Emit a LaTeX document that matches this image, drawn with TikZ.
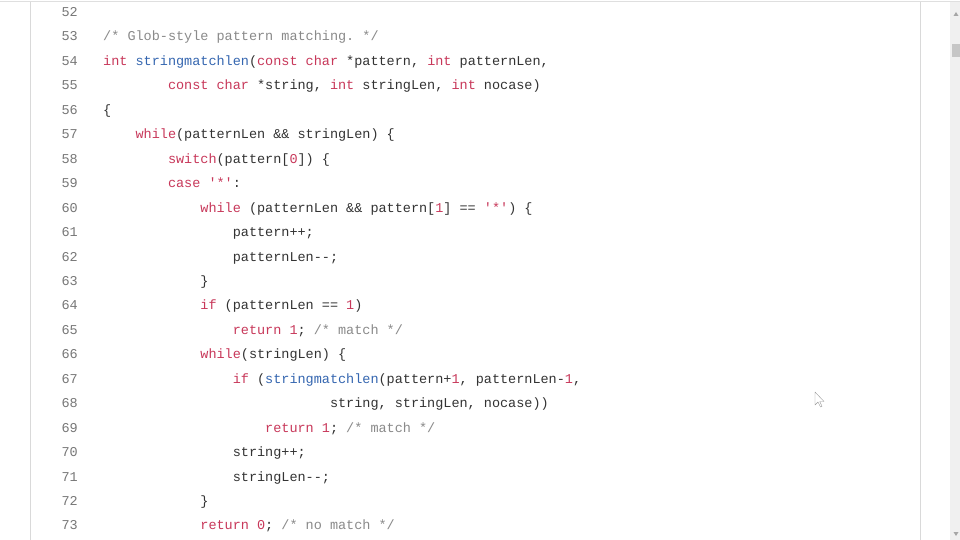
\documentclass[tikz,border=0pt]{standalone}
\usepackage{fontspec}
\setmonofont{Liberation Mono}
\definecolor{kw}{HTML}{C8385A}
\definecolor{fnc}{HTML}{3566B0}
\definecolor{cmt}{HTML}{8A8A8A}
\definecolor{txt}{HTML}{333333}
\definecolor{lnum}{HTML}{777777}
\newcommand{\ckw}[1]{\textcolor{kw}{#1}}
\newcommand{\cfn}[1]{\textcolor{fnc}{#1}}
\newcommand{\ccm}[1]{\textcolor{cmt}{#1}}
\begin{document}
\begin{tikzpicture}[x=1pt,y=-1pt,
  code/.style={anchor=base west,inner sep=0pt,font=\ttfamily\fontsize{13.5}{14}\selectfont,text=txt},
  lno/.style={anchor=base east,inner sep=0pt,font=\ttfamily\fontsize{13.5}{14}\selectfont,text=lnum}]
\fill[white] (0,0) rectangle (960,540);
\useasboundingbox (0,0) rectangle (960,540);
\draw[gray!25] (0,1.5) -- (960,1.5);
\draw[gray!30] (30,2) -- (30,540);
\draw[gray!30] (920,2) -- (920,540);
\fill[gray!12] (950,2) rectangle (960,540);
\fill[gray!45] (952,44) rectangle (960,57);
\fill[gray!70] (956,12) -- (958.5,16) -- (953.5,16) -- cycle;
\fill[gray!70] (956,536) -- (958.5,532) -- (953.5,532) -- cycle;
\def\ys{16.5}\def\dy{24.45}\def\cw{8.1}
\foreach \n [count=\i from 0] in {52,...,73}
  \node[lno] (n\n) at (78,\ys+\i*\dy) {\n};
\newcommand{\codeline}[3]{\node[code] (c#1) at (103+#2*\cw,\ys+#1*\dy-52*\dy) {#3};}
\codeline{53}{0}{\ccm{/* Glob-style pattern matching. */}}
\codeline{54}{0}{\ckw{int} \cfn{stringmatchlen}(\ckw{const} \ckw{char} *pattern, \ckw{int} patternLen,}
\codeline{55}{8}{\ckw{const} \ckw{char} *string, \ckw{int} stringLen, \ckw{int} nocase)}
\codeline{56}{0}{\{}
\codeline{57}{4}{\ckw{while}(patternLen \&\& stringLen) \{}
\codeline{58}{8}{\ckw{switch}(pattern[\ckw{0}]) \{}
\codeline{59}{8}{\ckw{case} \ckw{'*'}:}
\codeline{60}{12}{\ckw{while} (patternLen \&\& pattern[\ckw{1}] == \ckw{'*'}) \{}
\codeline{61}{16}{pattern++;}
\codeline{62}{16}{patternLen-{}-;}
\codeline{63}{12}{\}}
\codeline{64}{12}{\ckw{if} (patternLen == \ckw{1})}
\codeline{65}{16}{\ckw{return} \ckw{1}; \ccm{/* match */}}
\codeline{66}{12}{\ckw{while}(stringLen) \{}
\codeline{67}{16}{\ckw{if} (\cfn{stringmatchlen}(pattern+\ckw{1}, patternLen-\ckw{1},}
\codeline{68}{28}{string, stringLen, nocase))}
\codeline{69}{20}{\ckw{return} \ckw{1}; \ccm{/* match */}}
\codeline{70}{16}{string++;}
\codeline{71}{16}{stringLen-{}-;}
\codeline{72}{12}{\}}
\codeline{73}{12}{\ckw{return} \ckw{0}; \ccm{/* no match */}}
\draw[gray!80,fill=white,line join=round] (815,392) -- (815,405) -- (818,402) -- (820.5,407) -- (822,406.3) -- (819.7,401.5) -- (824,401.5) -- cycle;
\end{tikzpicture}
\end{document}
